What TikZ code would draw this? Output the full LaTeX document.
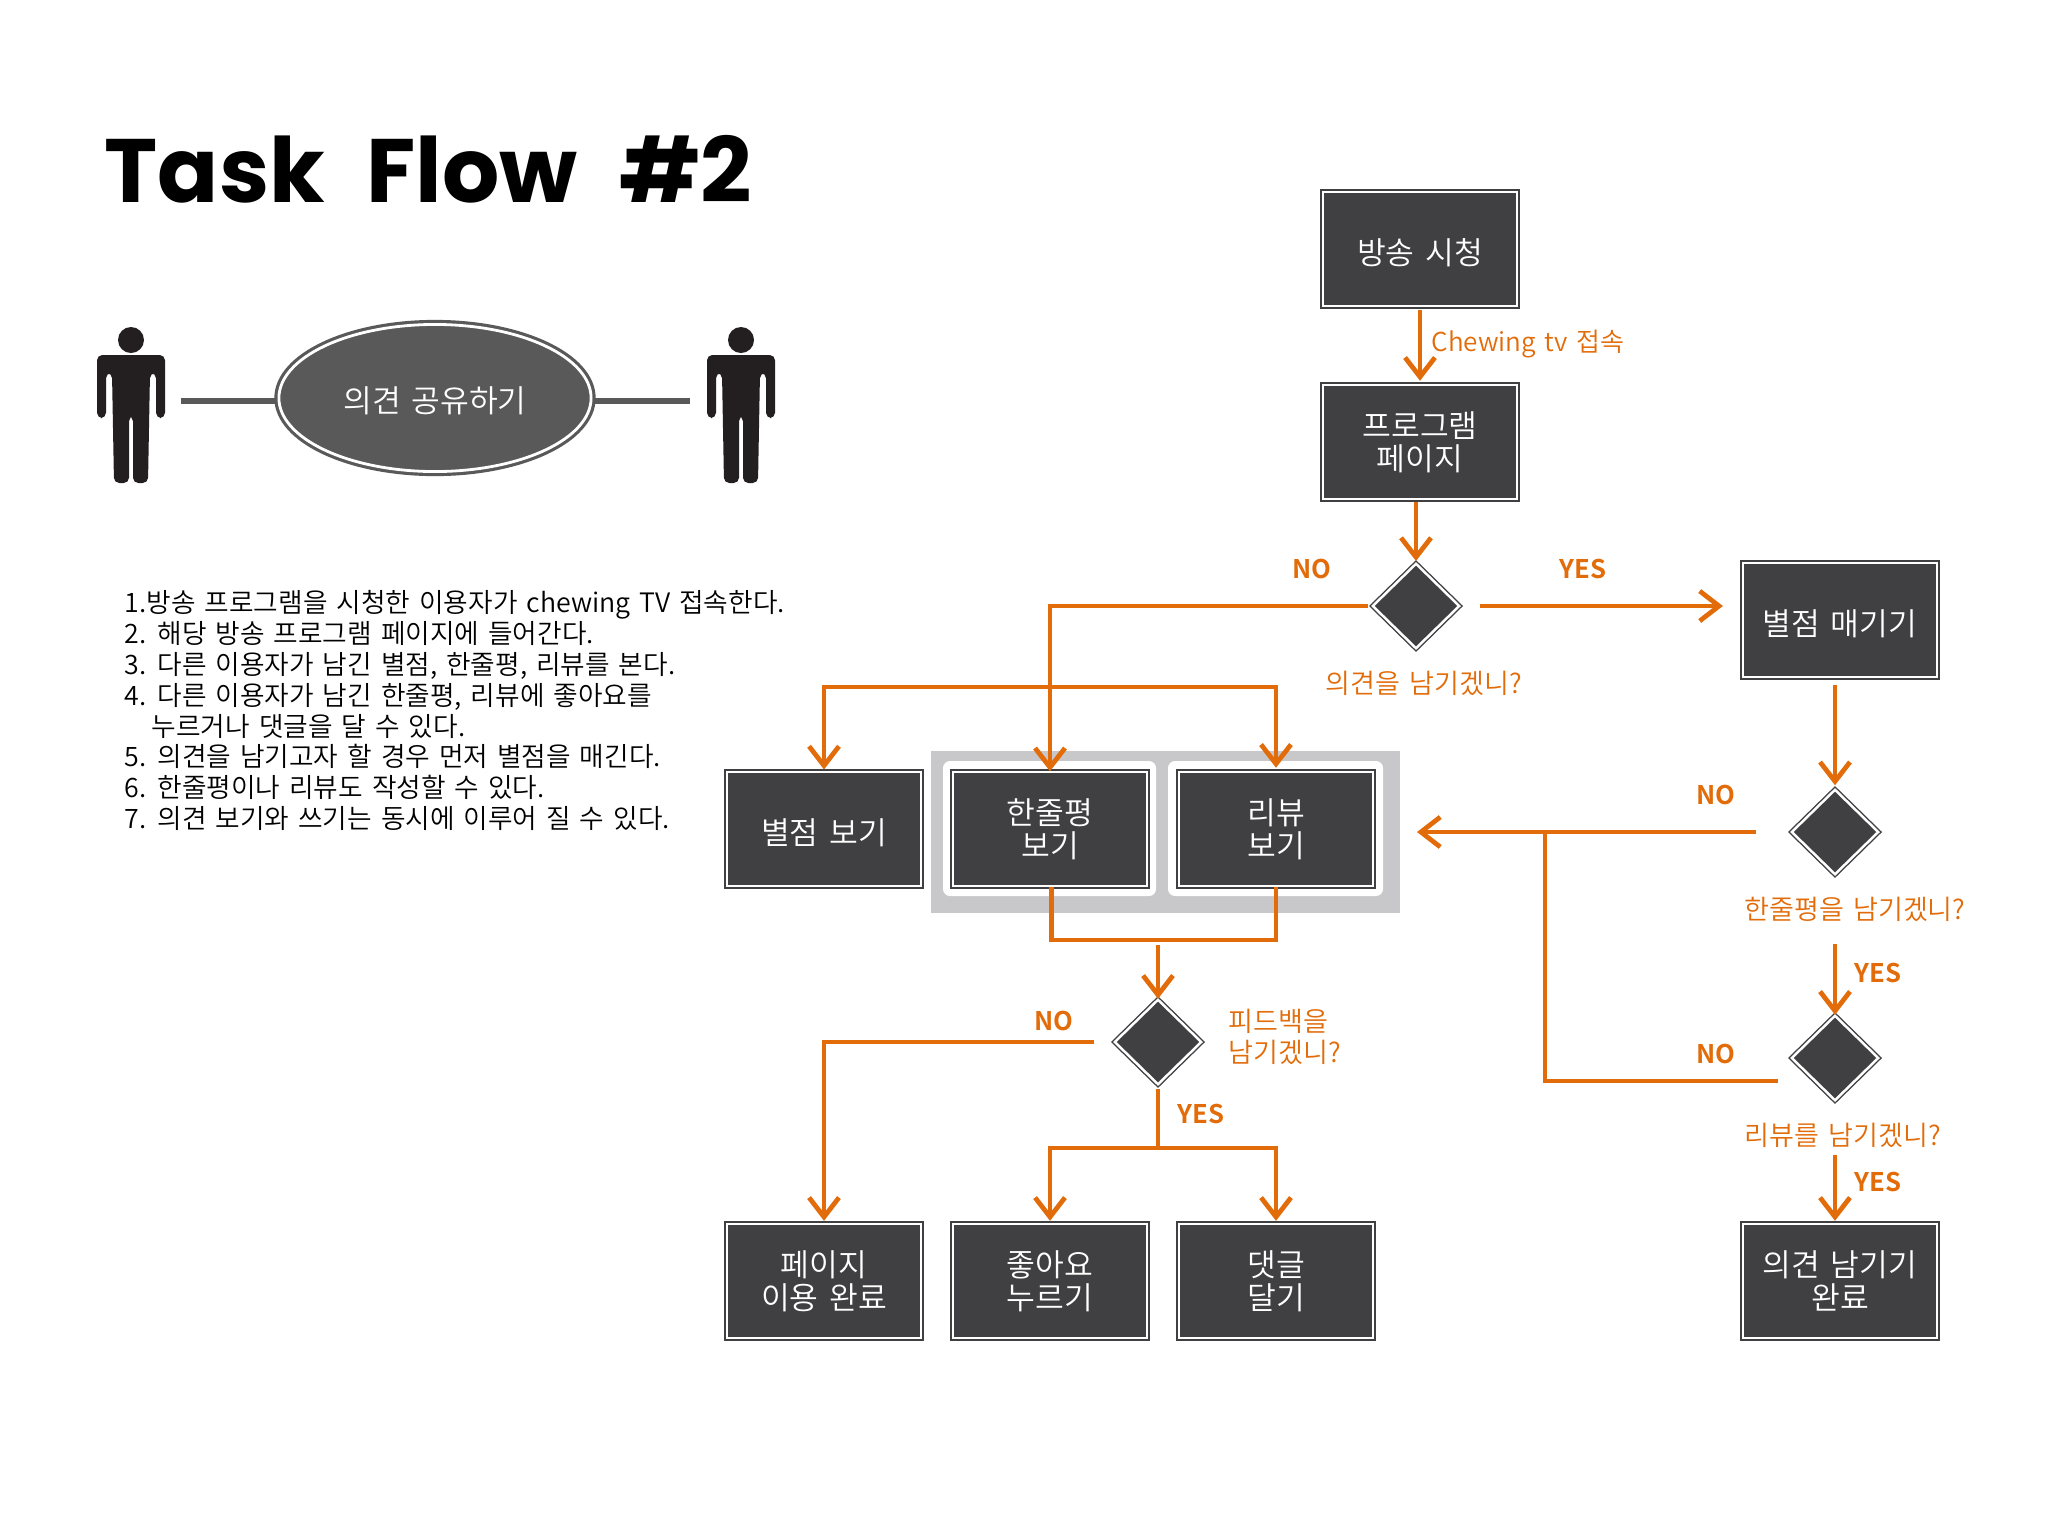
\documentclass[tikz,border=0pt]{standalone}
\usepackage{fontspec}
\setmainfont{Noto Sans CJK KR DemiLight}[BoldFont={Noto Sans CJK KR Bold},WordSpace=1.5]
\newfontfamily\titlefont{Poppins}
\usetikzlibrary{arrows.meta,shapes.geometric}
\definecolor{boxgray}{HTML}{404042}
\definecolor{flowor}{HTML}{E36C0A}
\definecolor{ovalgray}{HTML}{595959}
\definecolor{figblack}{HTML}{231F20}
\definecolor{panelgray}{HTML}{C8C8CA}
\begin{document}
\begin{tikzpicture}[
    x=.01cm,y=-.01cm,
    every node/.style={inner sep=0pt},
    boxnode/.style={draw=boxgray,double=white,double distance=.7pt,line width=.4pt,
        fill=boxgray,text=white,align=center,minimum width=1.94cm,minimum height=1.14cm,
        font=\fontsize{8.9}{9.4}\selectfont,execute at begin node={\rule{0pt}{9.5pt}}},
    ask/.style={diamond,draw=boxgray,double=white,double distance=.7pt,line width=.4pt,
        fill=boxgray,minimum width=.87cm,minimum height=.85cm},
    flow/.style={draw=flowor,line width=1.35pt},
    flowarr/.style={flow,-{Straight Barb[length=5.5pt,width=8.5pt]}},
    said/.style={text=flowor,align=left,font=\fontsize{7.7}{8.8}\selectfont},
    yesno/.style={text=flowor,font=\fontsize{7.3}{8}\selectfont\bfseries}]
    \useasboundingbox (0,0) rectangle (2048,1536);
    \fill[white] (0,0) rectangle (2048,1536);

    \node[anchor=base west,font=\titlefont\fontsize{25.6}{26}\selectfont\bfseries] (title)
        at (104,202) {Task\hspace{.25em} Flow\hspace{.25em} \#2};

    \foreach \px/\nm in {131/lfig,741/rfig} {
        \fill[figblack] (\px,340) ellipse (13 and 13);
        \fill[figblack,rounded corners=1.5pt] ({\px-34},418) -- ({\px-34},355) -- ({\px+34},355)
            -- ({\px+34},418) -- ({\px+25},418) -- ({\px+25},373) -- ({\px+19},373)
            -- ({\px+17},483) -- ({\px+2},483) -- ({\px+2},416) -- ({\px-2},416)
            -- ({\px-2},483) -- ({\px-17},483) -- ({\px-19},373) -- ({\px-25},373)
            -- ({\px-25},418) -- cycle;
    }
    \coordinate (lhand) at (181,401);
    \coordinate (rhand) at (690,401);
    \node[ellipse,draw=ovalgray,double=white,double distance=.8pt,line width=.9pt,fill=ovalgray,
        text=white,minimum width=3.12cm,minimum height=1.47cm,font=\fontsize{8.9}{9.2}\selectfont,
        execute at begin node={\rule{0pt}{9pt}}]
        (share) at (435,398) {의견 공유하기};
    \draw[ovalgray,line width=1.6pt] (lhand) -- (share.west |- lhand);
    \draw[ovalgray,line width=1.6pt] (share.east |- rhand) -- (rhand);

    \node[anchor=north west,align=left,font=\fontsize{7.6}{8.76}\selectfont] (steps) at (124,590) {%
        1.방송 프로그램을 시청한 이용자가 chewing TV 접속한다.\\
        2. 해당 방송 프로그램 페이지에 들어간다.\\
        3. 다른 이용자가 남긴 별점, 한줄평, 리뷰를 본다.\\
        4. 다른 이용자가 남긴 한줄평, 리뷰에 좋아요를\\
        \hspace*{7.7pt}누르거나 댓글을 달 수 있다.\\
        5. 의견을 남기고자 할 경우 먼저 별점을 매긴다.\\
        6. 한줄평이나 리뷰도 작성할 수 있다.\\
        7. 의견 보기와 쓰기는 동시에 이루어 질 수 있다.};

    \fill[panelgray] (931,751) rectangle (1400,913);
    \fill[white,rounded corners=2pt] (943,761) rectangle (1156,896);
    \fill[white,rounded corners=2pt] (1168,761) rectangle (1383,896);

    \node[boxnode] (watch) at (1420,249) {방송 시청};
    \node[boxnode] (program) at (1420,442) {프로그램\\페이지};
    \node[boxnode] (rate) at (1840,620) {별점 매기기};
    \node[boxnode] (seerate) at (824,829) {별점 보기};
    \node[boxnode] (seeline) at (1050,829) {한줄평\\보기};
    \node[boxnode] (seereview) at (1276,829) {리뷰\\보기};
    \node[boxnode] (done) at (824,1281) {페이지\\이용 완료};
    \node[boxnode] (like) at (1050,1281) {좋아요\\누르기};
    \node[boxnode] (reply) at (1276,1281) {댓글\\달기};
    \node[boxnode] (finish) at (1840,1281) {의견 남기기\\완료};
    \node[ask] (qopinion) at (1416,606) {};
    \node[ask] (qline) at (1835,832) {};
    \node[ask] (qreview) at (1835,1058) {};
    \node[ask] (qfeed) at (1158,1042) {};

    \coordinate (split) at (1049,687);
    \coordinate (back) at (1417,832);
    \coordinate (backjoin) at (1545,832);
    \coordinate (merge) at (1158,940);
    \coordinate (fork) at (1158,1148);

    \draw[flowarr,shorten <=1pt,shorten >=1pt] (watch.south) -- (program.north);
    \draw[flowarr,shorten <=.5pt,shorten >=.5pt] (program.south -| qopinion) -- (qopinion.north);
    \draw[flowarr,shorten <=5.5pt,shorten >=5.5pt] (qopinion.east) -- (rate.west |- qopinion);
    \draw[flowarr,shorten <=1pt] (qopinion.west) -| (seeline.north);
    \draw[flowarr,shorten >=.5pt] (split) -| (seerate.north);
    \draw[flowarr,shorten >=1pt] (split) -| (seereview.north);
    \draw[flowarr,shorten <=2pt,shorten >=1pt] (rate.south -| qline) -- (qline.north);
    \draw[flowarr,shorten <=10pt] (qline.west) -- (back);
    \draw[flow] (1778,1081) -| (backjoin);
    \draw[flowarr] (1835,944) -- (qreview.north);
    \draw[flowarr,shorten >=.7pt] (1835,1155) -- (finish.north -| qreview);
    \draw[flow] ([xshift=.5pt]seeline.south) |- (merge) -| (seereview.south);
    \draw[flowarr,shorten <=1.5pt] (merge) -- (qfeed.north);
    \draw[flowarr,shorten <=5.6pt,shorten >=.7pt] (qfeed.west) -| (done.north);
    \draw[flow,shorten <=1pt] (qfeed.south) -- (fork);
    \draw[flowarr,shorten >=.7pt] (fork) -| (like.north);
    \draw[flowarr,shorten >=.7pt] (fork) -| (reply.north);

    \node[said,anchor=west,font=\fontsize{7.4}{8.8}\selectfont] (tvlabel) at (1431,344) {Chewing tv 접속};
    \node[said] (qopiniontxt) at (1424,683) {의견을 남기겠니?};
    \node[said] (qlinetxt) at (1855,909) {한줄평을 남기겠니?};
    \node[said] (qreviewtxt) at (1843,1135) {리뷰를 남기겠니?};
    \node[said,anchor=west] (qfeedtxt) at (1228,1037) {피드백을\\남기겠니?};
    \node[yesno] (no1) at (1312,569) {NO};
    \node[yesno] (yes1) at (1583,569) {YES};
    \node[yesno] (no2) at (1716,795) {NO};
    \node[yesno] (yes2) at (1878,973) {YES};
    \node[yesno] (no3) at (1716,1054) {NO};
    \node[yesno] (yes3) at (1878,1182) {YES};
    \node[yesno] (no4) at (1054,1021) {NO};
    \node[yesno] (yes4) at (1201,1114) {YES};
\end{tikzpicture}
\end{document}
